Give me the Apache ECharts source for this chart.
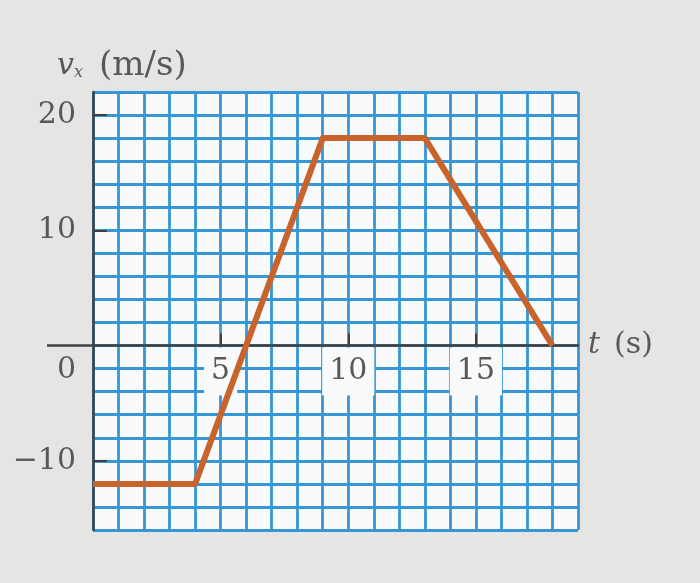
<!DOCTYPE html>
<html><head><meta charset="utf-8">
<script src="https://cdn.jsdelivr.net/npm/echarts@6/dist/echarts.min.js"></script>
<style>html,body{margin:0;padding:0;background:#e5e5e3}#c{width:700px;height:583px}</style>
</head><body><div id="c"></div>
<script>
const times = [0, 4, 9, 13, 18];
const velocities = [-12, -12, 18, 18, 0];
const xTickValues = [5, 10, 15];
const xLabelValues = [5, 10, 15];
const yTickValues = [20, 10, -10];
const yLabelValues = [20, 10, 0, -10];
const xRange = [0, 19];
const yRange = [-16, 22];

const FONT = 'DejaVu Serif';
const TXT = '#585858';
const AX = '#404040';
const BLUE = '#3597d8';
const CELL = '#f8fafb';

const chart = echarts.init(document.getElementById('c'), null, {renderer: 'canvas'});
chart.setOption({
  backgroundColor: '#e5e5e3',
  animation: false,
  title: {
    text: '{v|v}{s|x}{n|(m/s)}',
    left: 52, top: 44,
    textStyle: {
      fontWeight: 'normal',
      rich: {
        v: {fontFamily: FONT, fontStyle: 'italic', fontWeight: 'normal', fontSize: 30, color: TXT},
        s: {fontFamily: FONT, fontStyle: 'italic', fontWeight: 'normal', fontSize: 16, color: TXT, padding: [14, 0, 0, 0]},
        n: {fontFamily: FONT, fontWeight: 'normal', fontSize: 34, color: TXT, padding: [0, 0, 0, 16]}
      }
    }
  },
  grid: {left: 93, right: 122, top: 92, bottom: 53, show: true, backgroundColor: CELL, borderWidth: 0},
  xAxis: [
    {type: 'value', min: xRange[0], max: xRange[1], interval: 1, position: 'top',
     axisLine: {show: false}, axisTick: {show: false}, axisLabel: {show: false},
     splitLine: {show: true, lineStyle: {color: BLUE, width: 2.8}}},
    {type: 'value', min: xRange[0], max: xRange[1], interval: 1, position: 'bottom',
     axisLine: {show: true, onZero: true, onZeroAxisIndex: 1, lineStyle: {color: AX, width: 2.5}},
     axisTick: {show: true, inside: true, length: 12, customValues: xTickValues, lineStyle: {color: AX, width: 2}},
     axisLabel: {show: true, customValues: xLabelValues, margin: 2,
       formatter: v => '{b|' + v + '}',
       rich: {
         b: {fontFamily: FONT, fontSize: 30, color: TXT, padding: [9, 7, 9, 7], backgroundColor: CELL}
       }},
     splitLine: {show: false},
     name: '{t|t}{n|(s)}', nameLocation: 'end', nameGap: 10,
     nameTextStyle: {rich: {
       t: {fontFamily: FONT, fontStyle: 'italic', fontSize: 30, color: TXT},
       n: {fontFamily: FONT, fontSize: 30, color: TXT, padding: [0, 0, 0, 14]}}}}
  ],
  yAxis: [
    {type: 'value', min: yRange[0], max: yRange[1], interval: 2,
     axisLine: {show: false}, axisTick: {show: false}, axisLabel: {show: false},
     splitLine: {show: true, lineStyle: {color: BLUE, width: 2.8}}},
    {type: 'value', min: yRange[0], max: yRange[1], interval: 2, position: 'left',
     axisLine: {show: true, onZero: false, lineStyle: {color: AX, width: 2.5}},
     axisTick: {show: true, inside: true, length: 14, customValues: yTickValues, lineStyle: {color: AX, width: 2}},
     axisLabel: {show: true, customValues: yLabelValues, margin: 17,
       formatter: v => (v === 0 ? '{z|0}' : '{a|' + (v < 0 ? '\u2212' + (-v) : v) + '}'),
       rich: {
         a: {fontFamily: FONT, fontSize: 30, color: TXT},
         z: {fontFamily: FONT, fontSize: 30, color: TXT, padding: [50, 0, 0, 0]}
       }},
     splitLine: {show: false}}
  ],
  series: [{
    type: 'line', xAxisIndex: 1, yAxisIndex: 1,
    data: times.map((t, i) => [t, velocities[i]]),
    symbol: 'none', z: 10,
    lineStyle: {color: '#c8632b', width: 6, join: 'round'}
  }]
});
const p0 = chart.convertToPixel({xAxisIndex: 1, yAxisIndex: 1}, [xRange[0], 0]);
const pb = chart.convertToPixel({xAxisIndex: 1, yAxisIndex: 1}, [xRange[0], yRange[0]]);
chart.setOption({
  xAxis: [{}, {axisLabel: {margin: 2 - (pb[1] - p0[1])}}],
  graphic: [{type: 'line', shape: {x1: p0[0] - 46, y1: p0[1], x2: p0[0], y2: p0[1]},
    style: {stroke: AX, lineWidth: 2.5}, z: 5}]
});
</script></body></html>
